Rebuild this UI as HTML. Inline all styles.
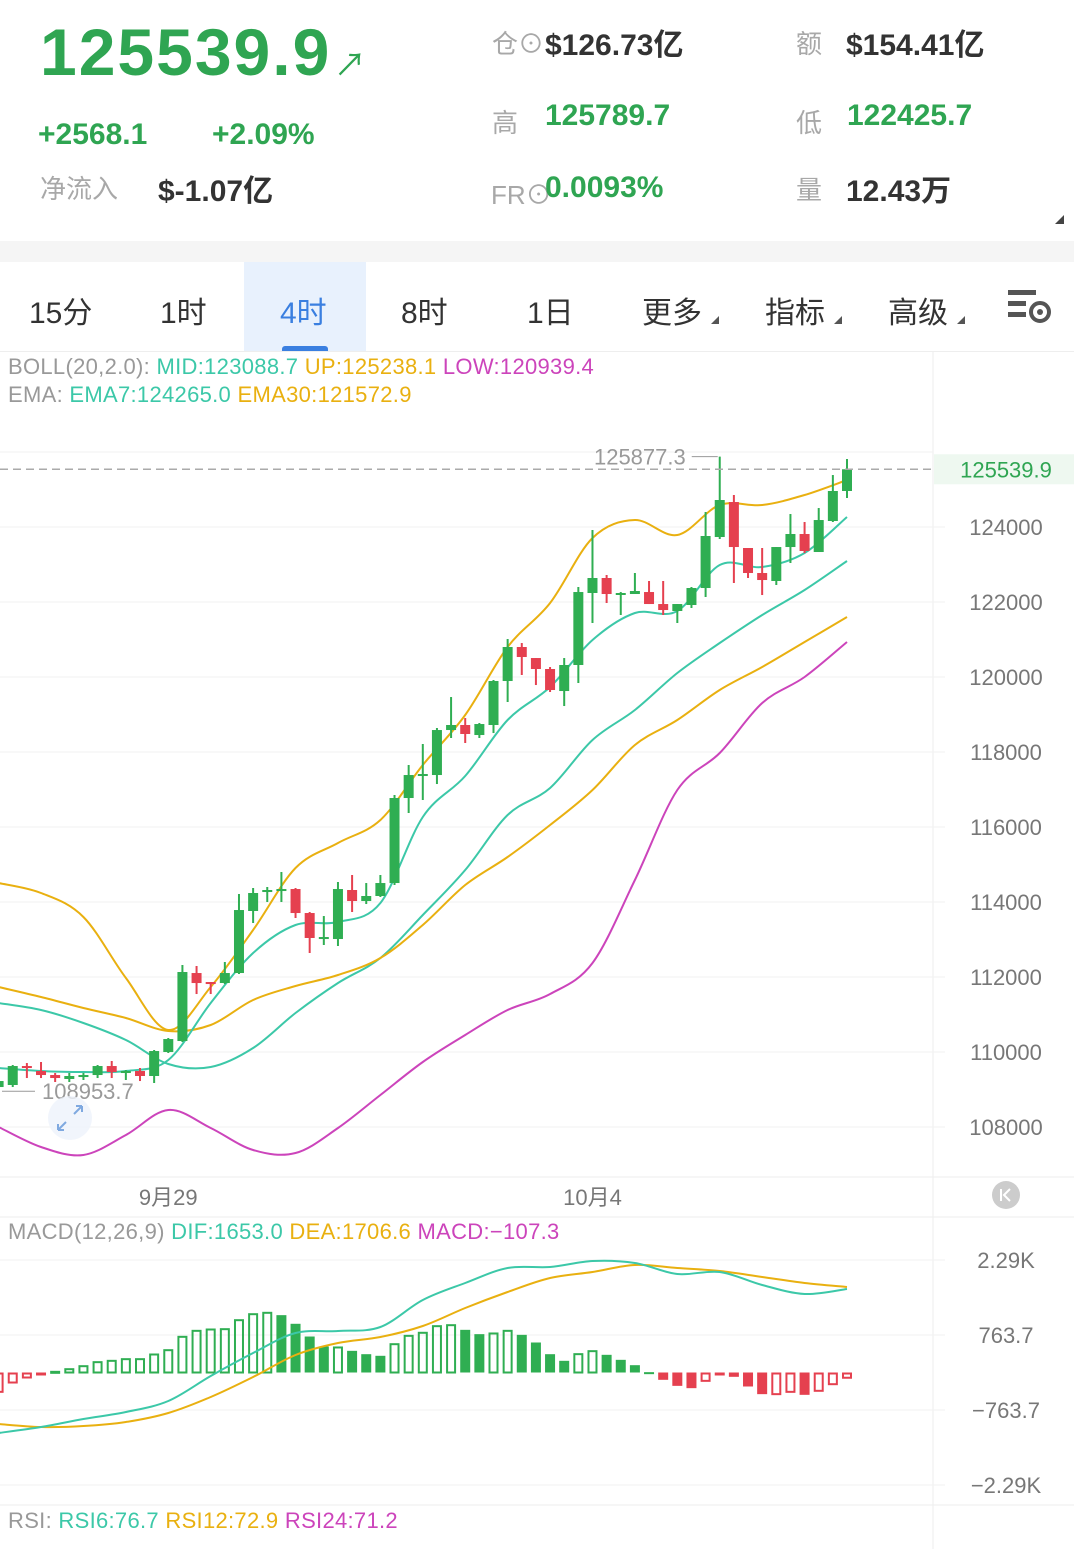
<!DOCTYPE html>
<html><head><meta charset="utf-8">
<style>
*{margin:0;padding:0;box-sizing:border-box}
body{width:1074px;height:1549px;background:#fff;font-family:"Liberation Sans","Noto Sans CJK SC",sans-serif;position:relative;overflow:hidden}
.a{position:absolute;white-space:nowrap}
.g{color:#2fa552}
.gray{color:#a8a8a8}
.dk{color:#333}
.tab{position:absolute;top:288px;font-size:30px;color:#333}
.lg{font-size:22px;letter-spacing:0.3px}
</style></head><body>
<div class="a g" style="left:40px;top:14px;font-size:66px;font-weight:bold;letter-spacing:2px">125539.9</div>
<div class="a g" style="left:334px;top:40px;font-size:32px">↗</div>
<div class="a g" style="left:38px;top:118px;font-size:30px;font-weight:bold">+2568.1</div>
<div class="a g" style="left:212px;top:118px;font-size:30px;font-weight:bold">+2.09%</div>
<div class="a gray" style="left:40px;top:169px;font-size:26px">净流入</div>
<div class="a dk" style="left:158px;top:166px;font-size:30px;font-weight:bold">$-1.07亿</div>

<div class="a gray" style="left:492px;top:24px;font-size:26px">仓⊙</div>
<div class="a dk" style="left:545px;top:20px;font-size:30px;font-weight:bold">$126.73亿</div>
<div class="a gray" style="left:796px;top:24px;font-size:26px">额</div>
<div class="a dk" style="left:846px;top:20px;font-size:30px;font-weight:bold">$154.41亿</div>
<div class="a gray" style="left:492px;top:103px;font-size:26px">高</div>
<div class="a g" style="left:545px;top:99px;font-size:30px;font-weight:bold">125789.7</div>
<div class="a gray" style="left:796px;top:103px;font-size:26px">低</div>
<div class="a g" style="left:847px;top:99px;font-size:30px;font-weight:bold">122425.7</div>
<div class="a gray" style="left:491px;top:175px;font-size:26px">FR⊙</div>
<div class="a g" style="left:545px;top:171px;font-size:30px;font-weight:bold">0.0093%</div>
<div class="a gray" style="left:796px;top:170px;font-size:26px">量</div>
<div class="a dk" style="left:846px;top:166px;font-size:30px;font-weight:bold">12.43万</div>
<div class="a" style="left:1055px;top:215px;width:0;height:0;border-left:9px solid transparent;border-bottom:9px solid #444"></div>

<div class="a" style="left:0;top:241px;width:1074px;height:21px;background:#f5f5f5"></div>
<div class="a" style="left:244px;top:262px;width:122px;height:90px;background:#e8f1fd"></div>
<div class="a" style="left:282px;top:346px;width:46px;height:6px;border-radius:3px 3px 0 0;background:#3a7fe0"></div>
<div class="tab" style="left:29px">15分</div>
<div class="tab" style="left:160px">1时</div>
<div class="tab" style="left:280px;color:#3a7fe0">4时</div>
<div class="tab" style="left:401px">8时</div>
<div class="tab" style="left:527px">1日</div>
<div class="tab" style="left:642px">更多</div>
<div class="tab" style="left:765px">指标</div>
<div class="tab" style="left:888px">高级</div>
<div class="a" style="left:711px;top:316px;border-left:8px solid transparent;border-bottom:8px solid #555"></div>
<div class="a" style="left:834px;top:316px;border-left:8px solid transparent;border-bottom:8px solid #555"></div>
<div class="a" style="left:957px;top:316px;border-left:8px solid transparent;border-bottom:8px solid #555"></div>
<svg class="a" style="left:1005px;top:288px" width="48" height="40">
<rect x="3" y="2" width="28" height="5" fill="#555"/><rect x="3" y="13" width="18" height="5" fill="#555"/><rect x="3" y="24" width="18" height="5" fill="#555"/>
<circle cx="35" cy="24" r="9" fill="none" stroke="#555" stroke-width="4"/><circle cx="35" cy="24" r="3" fill="#555"/></svg>

<div class="a" style="left:0;top:351px;width:1074px;height:1px;background:#eee"></div>
<div class="a lg" style="left:8px;top:354px;color:#999">BOLL(20,2.0): <span style="color:#3cc8a8">MID:123088.7</span> <span style="color:#e9b010">UP:125238.1</span> <span style="color:#cc44bb">LOW:120939.4</span></div>
<div class="a lg" style="left:8px;top:382px;color:#999">EMA: <span style="color:#3cc8a8">EMA7:124265.0</span> <span style="color:#e9b010">EMA30:121572.9</span></div>
<div class="a lg" style="left:8px;top:1219px;color:#999">MACD(12,26,9) <span style="color:#3cc8a8">DIF:1653.0</span> <span style="color:#e9b010">DEA:1706.6</span> <span style="color:#cc44bb">MACD:−107.3</span></div>
<div class="a lg" style="left:8px;top:1508px;color:#999">RSI: <span style="color:#3cc8a8">RSI6:76.7</span> <span style="color:#e9b010">RSI12:72.9</span> <span style="color:#cc44bb">RSI24:71.2</span></div>

<svg id="chart" class="a" style="left:0;top:0" width="1074" height="1549"></svg>
<script>
// candle data (index 0 is the partially visible first candle)
const opens=[109066,109120,109626,109493,109386,109280,109360,109386,109626,109466,109493,109360,110000,110293,112106,111866,111840,112106,113760,114266,114293,114346,113706,113013,113013,114320,114026,114160,114506,116773,117386,117386,118586,118720,118453,118720,119893,120800,120506,120213,119626,120320,122240,122640,122213,122213,122266,121946,121760,121920,122373,123733,124666,123440,122773,122560,123466,123813,123333,124160,124960];
const closes=[109226,109626,109573,109386,109306,109360,109386,109626,109466,109493,109360,110026,110346,112133,111839,111813,112106,113786,114240,114320,114346,113706,113040,113066,114346,114026,114160,114506,116773,117386,117413,118586,118720,118480,118746,119893,120800,120533,120213,119653,120320,122266,122640,122213,122240,122293,121946,121786,121946,122373,123760,124720,123466,122773,122586,123466,123813,123360,124186,124960,125539.9];
const highs=[109280,109653,109706,109733,109440,109440,109440,109653,109760,109520,109573,110053,110373,112320,112293,111866,112400,114213,114373,114400,114800,114373,113733,113626,114533,114720,114506,114720,116853,117653,118213,118640,119466,118906,118773,119920,121013,120906,120506,120266,120506,122400,123920,122720,122266,122773,122560,122560,121946,122400,124400,125877.3,124853,123440,123440,123466,124346,124133,124506,125386,125813];
const lows=[109013,109066,109306,109306,109200,109200,109253,109306,109306,109253,109226,109173,109973,110266,111546,111546,111813,112080,113440,114000,114000,113573,112640,112853,112826,113733,113946,114133,114453,116373,116720,117146,118373,118240,118373,118506,119333,120053,119786,119600,119226,119840,121440,121973,121653,122213,121946,121653,121440,121840,122133,123680,122506,122640,122186,122453,123040,123306,123333,124133,124773];
// overlay lines sampled every 3rd candle (indices 0,3,6,...,60)
const bollUp=[114506,114240,113600,111973,110587,111733,113253,114906,115573,116186,117653,118986,120800,121973,123706,124186,123786,124586,124586,124853,125253];
const bollMid=[111306,111120,110773,110320,109680,109600,110106,111040,111840,112506,113653,114853,116320,117040,118320,119120,120106,120906,121653,122320,123093];
const bollLow=[108000,107466,107253,107786,108453,107973,107386,107306,107973,108853,109733,110453,111120,111546,112373,114586,116986,117973,119306,120000,120933];
const ema7=[109573,109493,109466,109493,109786,111306,112640,113386,113466,113973,116266,117360,118853,119733,120986,121706,121760,122986,122933,123306,124266];
const ema30=[111733,111466,111173,110906,110560,110720,111386,111760,112053,112506,113386,114453,115200,116053,116986,118186,118853,119653,120266,120933,121600];
// MACD
const macdHist=[-394,-204,-102,-20,34,88,149,231,258,292,292,387,475,747,869,896,903,1086,1208,1236,1168,992,733,530,530,441,373,340,597,767,829,964,984,869,781,815,869,767,611,373,238,394,455,360,258,149,7,-149,-272,-319,-170,-20,-88,-285,-441,-441,-394,-455,-373,-238,-107];
const dif=[-1232,-1110,-947,-804,-581,-71,397,804,845,927,1477,1823,2129,2149,2271,2231,2006,2047,1782,1599,1701];
const dea=[-1049,-1110,-1090,-1008,-825,-499,-92,356,601,723,947,1314,1640,1925,2047,2190,2129,2068,1945,1823,1741];
const priceTicks=[124000,122000,120000,118000,116000,114000,112000,110000,108000];
const macdTicks=[2290,763.7,-763.7,-2290];
const macdTickLabels=['2.29K','763.7','−763.7','−2.29K'];
const dateLabels=['9月29','10月4'];
const dateIdx=[12,42];
const lastPrice=125539.9, maxPrice=125877.3, minPrice=108953.7;

const X=i=>-1.4+i*14.14;
const Y=p=>527+(124000-p)*0.0375;
const MY=v=>1372.5-v*0.0491;
const NS='http://www.w3.org/2000/svg';
const svg=document.getElementById('chart');
function mk(tag,attrs,parent){const e=document.createElementNS(NS,tag);for(const k in attrs)e.setAttribute(k,attrs[k]);(parent||svg).appendChild(e);return e;}
const G='#2fae52',R='#e5404f';
const FONT='Liberation Sans, Noto Sans CJK SC, sans-serif';
mk('line',{x1:933,y1:352,x2:933,y2:1549,stroke:'#eee'});
mk('line',{x1:0,y1:1177,x2:1074,y2:1177,stroke:'#eee'});
mk('line',{x1:0,y1:1217,x2:1074,y2:1217,stroke:'#eee'});
mk('line',{x1:0,y1:1505,x2:1074,y2:1505,stroke:'#eee'});
priceTicks.forEach(p=>{const y=Y(p);
 const l=mk('line',{x1:0,y1:y,x2:945,y2:y,stroke:'#f2f2f2'});
 
 
 const t=mk('text',{x:1006,y:y+8,'text-anchor':'middle','font-size':22,fill:'#777','font-family':FONT});t.textContent=p;
 
 
});
mk('line',{x1:0,y1:452,x2:933,y2:452,stroke:'#f2f2f2'});
macdTicks.forEach((v,k)=>{const y=MY(v);
 mk('line',{x1:0,y1:y,x2:945,y2:y,stroke:'#f2f2f2'});
 const t=mk('text',{x:1006,y:y+8,'text-anchor':'middle','font-size':22,fill:'#777','font-family':FONT});t.textContent=macdTickLabels[k];
 
 
});
dateLabels.forEach((d,k)=>{const t=mk('text',{x:X(dateIdx[k]),y:1205,'text-anchor':'middle','font-size':22,fill:'#777','font-family':FONT});t.textContent=d;
 
 
});
const clip=mk('clipPath',{id:'c'});mk('rect',{x:0,y:352,width:933,height:1197},clip);
const g=mk('g',{'clip-path':'url(#c)'});
function line(arr,step,yf,color,name){
 const P=arr.map((v,k)=>[X(k*step),yf(v)]);
 let d='M'+P[0][0].toFixed(1)+' '+P[0][1].toFixed(1);
 for(let k=0;k<P.length-1;k++){
  const p0=P[Math.max(0,k-1)],p1=P[k],p2=P[k+1],p3=P[Math.min(P.length-1,k+2)];
  const c1=[p1[0]+(p2[0]-p0[0])/6,p1[1]+(p2[1]-p0[1])/6],c2=[p2[0]-(p3[0]-p1[0])/6,p2[1]-(p3[1]-p1[1])/6];
  d+=' C'+c1[0].toFixed(1)+' '+c1[1].toFixed(1)+' '+c2[0].toFixed(1)+' '+c2[1].toFixed(1)+' '+p2[0].toFixed(1)+' '+p2[1].toFixed(1);
 }
 const l=mk('path',{d:d,fill:'none',stroke:color,'stroke-width':2,'stroke-linejoin':'round'},g);
 
 
}
line(bollUp,3,Y,'#e9b010','boll-upper');
line(bollLow,3,Y,'#cc44bb','boll-lower');
line(bollMid,3,Y,'#3cc8a8','boll-mid');
line(ema30,3,Y,'#e9b010','ema30-line');
line(ema7,3,Y,'#3cc8a8','ema7-line');
closes.forEach((c,i)=>{const o=opens[i],x=X(i),up=c>=o,col=up?G:R;
 const w=mk('line',{x1:x,y1:Y(highs[i]),x2:x,y2:Y(lows[i]),stroke:col,'stroke-width':2},g);
 
 
 const t=Math.min(Y(o),Y(c)),h=Math.max(2,Math.abs(Y(o)-Y(c)));
 const b=mk('rect',{x:x-5,y:t,width:10,height:h,fill:col},g);
 
 
});
macdHist.forEach((v,i)=>{const x=X(i),prev=i?macdHist[i-1]:v,hollow=v>=prev,col=v>=0?G:R;
 const y0=MY(0),y1=MY(v),t=Math.min(y0,y1),h=Math.max(2,Math.abs(y1-y0));
 const r=mk('rect',hollow?{x:x-4,y:t+1,width:8,height:Math.max(1,h-1),fill:'none',stroke:col,'stroke-width':2}:{x:x-5,y:t,width:10,height:h,fill:col},g);
 
 
});
line(dea,3,MY,'#e9b010','dea-line');
line(dif,3,MY,'#3cc8a8','dif-line');
const ly=Y(lastPrice);
mk('line',{x1:0,y1:ly,x2:933,y2:ly,stroke:'#aaa','stroke-dasharray':'8,5','stroke-width':1.5});
mk('rect',{x:934,y:ly-15,width:140,height:30,fill:'#eef8f0'});
const lt=mk('text',{x:1006,y:ly+8,'text-anchor':'middle','font-size':22,fill:'#2fa552','font-family':FONT});lt.textContent=lastPrice.toFixed(1);


const mxI=highs.indexOf(Math.max(...highs)),my=Y(maxPrice);
mk('line',{x1:X(mxI)-28,y1:my,x2:X(mxI)-2,y2:my,stroke:'#999'});
const mt=mk('text',{x:X(mxI)-34,y:my+8,'text-anchor':'end','font-size':22,fill:'#999','font-family':FONT});mt.textContent=maxPrice.toFixed(1);


const mny=Y(minPrice);
mk('line',{x1:2,y1:mny,x2:35,y2:mny,stroke:'#999'});
const nt=mk('text',{x:42,y:mny+8,'font-size':22,fill:'#999','font-family':FONT});nt.textContent=minPrice.toFixed(1);


const ex=mk('g',{});


mk('circle',{cx:70,cy:1118,r:22,fill:'#eef3fb',opacity:0.8},ex);
mk('path',{d:'M58 1130 L66 1122 M58 1130 L58 1124 M58 1130 L64 1130 M82 1106 L74 1114 M82 1106 L82 1112 M82 1106 L76 1106',stroke:'#7fa9e0','stroke-width':2,fill:'none'},ex);
const bk=mk('g',{});


mk('circle',{cx:1006,cy:1195,r:14,fill:'#ccc'},bk);
mk('path',{d:'M1001 1189 V1201 M1010 1189 L1004 1195 L1010 1201',stroke:'#fff','stroke-width':2,fill:'none'},bk);
</script>
</body></html>
